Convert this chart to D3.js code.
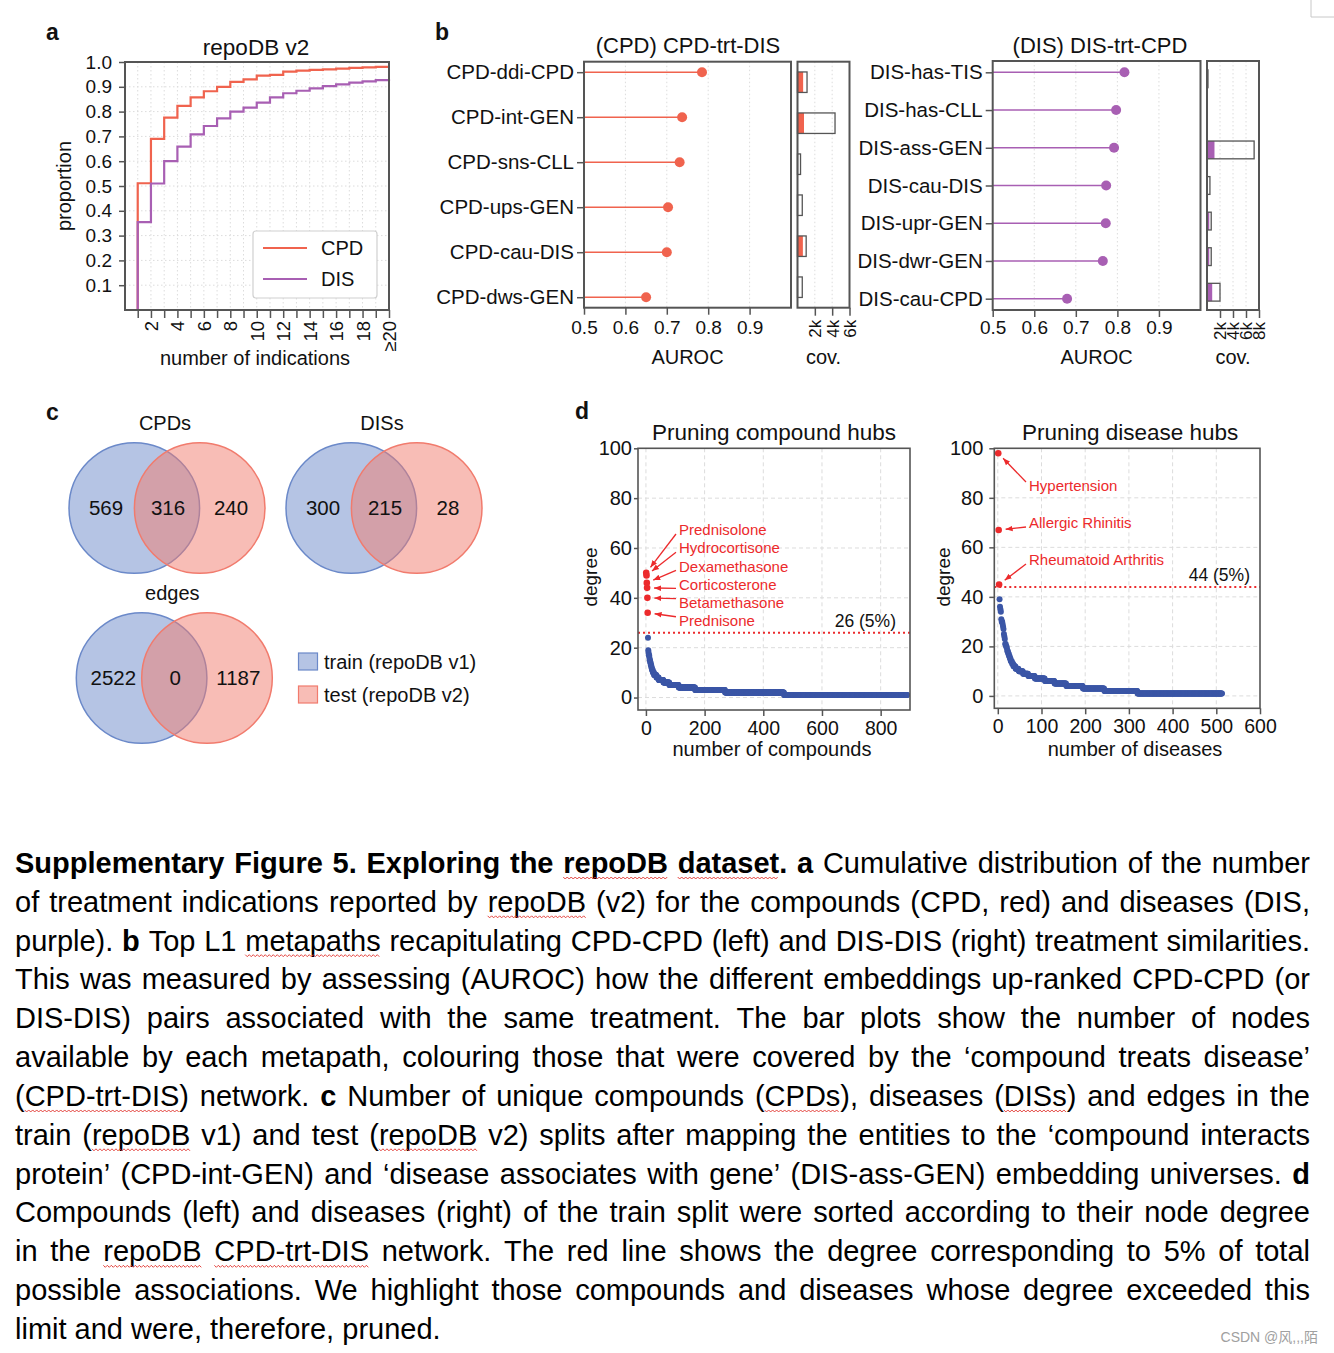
<!DOCTYPE html>
<html>
<head>
<meta charset="utf-8">
<script src="https://cdn.jsdelivr.net/npm/d3@7"></script>
<style>
  body { margin: 0; background: #fff; }
  svg { display: block; font-family: "Liberation Sans", Arial, Helvetica, sans-serif; }
</style>
</head>
<body>
<svg id="fig" width="1334" height="1353"></svg>
<script>
// ---- a: cumulative proportion of CPD / DIS by number of indications (last bin is >=20)
const indications = [1, 2, 3, 4, 5, 6, 7, 8, 9, 10, 11, 12, 13, 14, 15, 16, 17, 18, 19, 20];
const cpdCumulative = [0.511, 0.69, 0.776, 0.823, 0.857, 0.882, 0.90, 0.92, 0.93, 0.945, 0.948, 0.961, 0.965, 0.968, 0.970, 0.973, 0.976, 0.978, 0.980, 0.980];
const disCumulative = [0.354, 0.51, 0.60, 0.659, 0.708, 0.742, 0.773, 0.80, 0.816, 0.836, 0.857, 0.874, 0.884, 0.894, 0.903, 0.91, 0.917, 0.922, 0.927, 0.93];
const propTicks = [0.1, 0.2, 0.3, 0.4, 0.5, 0.6, 0.7, 0.8, 0.9, 1.0];

// ---- b: top L1 metapaths, AUROC and node coverage
const cpdPaths = ["CPD-ddi-CPD", "CPD-int-GEN", "CPD-sns-CLL", "CPD-ups-GEN", "CPD-cau-DIS", "CPD-dws-GEN"];
const cpdAuroc = [0.785, 0.737, 0.731, 0.703, 0.700, 0.650];
const cpdNodes = [1100, 4330, 350, 550, 1000, 550];
const cpdCovered = [650, 750, 0, 0, 620, 0];
const disPaths = ["DIS-has-TIS", "DIS-has-CLL", "DIS-ass-GEN", "DIS-cau-DIS", "DIS-upr-GEN", "DIS-dwr-GEN", "DIS-cau-CPD"];
const disAuroc = [0.817, 0.797, 0.792, 0.773, 0.772, 0.765, 0.679];
const disNodes = [150, 20, 7250, 450, 650, 650, 2000];
const disCovered = [150, 20, 1150, 100, 350, 350, 800];
const aurocTicks = [0.5, 0.6, 0.7, 0.8, 0.9];
const cpdCovTicks = [2000, 4000, 6000];
const disCovTicks = [2000, 4000, 6000, 8000];

// ---- c: train / test overlaps
const vennTitles = ["CPDs", "DISs", "edges"];
const vennTrainOnly = [569, 300, 2522];
const vennShared = [316, 215, 0];
const vennTestOnly = [240, 28, 1187];
const splitLabels = ["train (repoDB v1)", "test (repoDB v2)"];

// ---- d: node degree of train split, sorted; runs are [degree, number of nodes]
const cpdHubNames = ["Prednisolone", "Hydrocortisone", "Dexamethasone", "Corticosterone", "Betamethasone", "Prednisone"];
const cpdHubDegrees = [50, 49, 46, 44, 40, 34];
const cpdDegreeRuns = [[24, 1], [19, 1], [18, 1], [17, 2], [16, 1], [15, 2], [14, 2], [13, 2], [12, 2], [11, 3], [10, 4],
  [9, 8], [8, 8], [7, 16], [6, 20], [5, 32], [4, 56], [3, 102], [2, 201], [1, 420]];
const cpdCutoff = 26;
const disHubNames = ["Hypertension", "Allergic Rhinitis", "Rheumatoid Arthritis"];
const disHubDegrees = [98, 67, 45];
const disDegreeRuns = [[39, 1], [36, 1], [35, 1], [34, 1], [31, 1], [30, 2], [29, 1], [28, 1], [27, 1], [25, 1], [24, 1], [23, 1],
  [21, 2], [20, 2], [19, 1], [18, 2], [17, 2], [16, 2], [15, 2], [14, 3], [13, 3], [12, 5], [11, 7], [10, 10], [9, 12],
  [8, 15], [7, 23], [6, 22], [5, 27], [4, 38], [3, 49], [2, 76], [1, 194]];
const disCutoff = 44;
const degreeTicks = [0, 20, 40, 60, 80, 100];
const cpdRankTicks = [0, 200, 400, 600, 800];
const disRankTicks = [0, 100, 200, 300, 400, 500, 600];

// ---- caption (~ marks the spell-check squiggles)
const captionLines = [
  [["Supplementary Figure 5. Exploring the ~repoDB~ ~dataset~. a", 1], [" Cumulative distribution of the number", 0]],
  [["of treatment indications reported by ~repoDB~ (v2) for the compounds (CPD, red) and diseases (DIS,", 0]],
  [["purple). ", 0], ["b", 1], [" Top L1 ~metapaths~ recapitulating CPD-CPD (left) and DIS-DIS (right) treatment similarities.", 0]],
  [["This was measured by assessing (AUROC) how the different embeddings up-ranked CPD-CPD (or", 0]],
  [["DIS-DIS) pairs associated with the same treatment. The bar plots show the number of nodes", 0]],
  [["available by each metapath, colouring those that were covered by the \u2018compound treats disease\u2019", 0]],
  [["(~CPD-trt-DIS~) network. ", 0], ["c", 1], [" Number of unique compounds (~CPDs~), diseases (~DISs~) and edges in the", 0]],
  [["train (~repoDB~ v1) and test (~repoDB~ v2) splits after mapping the entities to the \u2018compound interacts", 0]],
  [["protein\u2019 (CPD-int-GEN) and \u2018disease associates with gene\u2019 (DIS-ass-GEN) embedding universes. ", 0], ["d", 1]],
  [["Compounds (left) and diseases (right) of the train split were sorted according to their node degree", 0]],
  [["in the ~repoDB~ ~CPD-trt-DIS~ network. The red line shows the degree corresponding to 5% of total", 0]],
  [["possible associations. We highlight those compounds and diseases whose degree exceeded this", 0]],
  [["limit and were, therefore, pruned.", 0]]
];

const RED = "#f0634e", PURPLE = "#a85fb3", AXIS = "#555", GRID = "#dcdcdc";
const HUB = "#ec2a2c", BLUE = "#3b56a6";
const TRAIN = "#6b89c9", TEST = "#f17b6d";

const svg = d3.select("#fig");
svg.append("rect").attr("width", 1334).attr("height", 1353).attr("fill", "#fff");

svg.append("defs").append("marker")
  .attr("id", "arrow").attr("viewBox", "0 0 10 10").attr("refX", 10).attr("refY", 5)
  .attr("markerWidth", 7).attr("markerHeight", 7).attr("markerUnits", "userSpaceOnUse").attr("orient", "auto")
  .append("path").attr("d", "M0,1 L10,5 L0,9 Z").attr("fill", HUB);

function tidy(g, size) {
  g.select(".domain").remove();
  g.selectAll(".tick line").attr("stroke", AXIS).attr("stroke-width", 1.5);
  g.selectAll(".tick text").attr("fill", "#111").style("font-size", size + "px")
    .style("font-family", "'Liberation Sans', Arial, sans-serif");
}

function box(g, x0, y0, x1, y1, w) {
  g.append("rect").attr("x", x0).attr("y", y0).attr("width", x1 - x0).attr("height", y1 - y0)
    .attr("fill", "none").attr("stroke", AXIS).attr("stroke-width", w);
}

function label(g, x, y, txt, size, opts = {}) {
  const t = g.append("text").attr("x", x).attr("y", y).text(txt)
    .style("font-size", size + "px").attr("fill", opts.fill || "#111")
    .attr("text-anchor", opts.anchor || "start");
  if (opts.bold) t.attr("font-weight", "bold");
  if (opts.rotate) t.attr("transform", `rotate(-90,${x},${y})`);
  if (opts.dy) t.attr("dy", opts.dy);
  return t;
}

// panel letters
[["a", 46, 40], ["b", 435, 40], ["c", 46, 420], ["d", 575, 419]].forEach(([l, x, y]) =>
  label(svg, x, y, l, 23, { bold: true }));

// ================= a =================
{
  const g = svg.append("g");
  const x = d3.scaleLinear().domain([0, 20]).range([124.5, 389]);
  const y = d3.scaleLinear().domain([0, 1]).range([310, 62]);
  g.selectAll(null).data(indications).join("line")
    .attr("x1", d => x(d)).attr("x2", d => x(d)).attr("y1", 62).attr("y2", 310)
    .attr("stroke", GRID).attr("stroke-dasharray", "1.5,2.5");
  g.selectAll(null).data(propTicks).join("line")
    .attr("x1", 125).attr("x2", 389).attr("y1", d => y(d)).attr("y2", d => y(d))
    .attr("stroke", GRID).attr("stroke-dasharray", "1.5,2.5");

  const step = d3.line().x(d => x(d[0])).y(d => y(d[1])).curve(d3.curveStepAfter);
  [[cpdCumulative, RED], [disCumulative, PURPLE]].forEach(([vals, c]) => {
    const pts = [[indications[0], 0], ...indications.map((k, i) => [k, vals[i]])];
    g.append("path").attr("d", step(pts)).attr("fill", "none").attr("stroke", c).attr("stroke-width", 2.2);
  });
  box(g, 125, 62, 389, 310, 2);

  g.append("g").attr("transform", "translate(125,0)")
    .call(d3.axisLeft(y).tickValues(propTicks).tickFormat(d3.format(".1f")).tickSize(6).tickPadding(7))
    .call(tidy, 19);
  const xa = g.append("g").attr("transform", "translate(0,310)")
    .call(d3.axisBottom(x).tickValues(indications)
      .tickFormat(d => d === 20 ? "\u226520" : (d % 2 ? "" : d)).tickSize(8))
    .call(tidy, 18.5);
  xa.selectAll(".tick text").attr("transform", "rotate(-90)").attr("text-anchor", "end")
    .attr("x", -11).attr("y", 0).attr("dy", "0.35em");

  label(g, 256, 55, "repoDB v2", 22.5, { anchor: "middle" });
  label(g, 71, 186, "proportion", 20, { anchor: "middle", rotate: true });
  label(g, 255, 365, "number of indications", 20, { anchor: "middle" });

  const lg = g.append("g");
  lg.append("rect").attr("x", 253).attr("y", 231).attr("width", 124).attr("height", 67).attr("rx", 3)
    .attr("fill", "#fff").attr("stroke", "#d0d0d0").attr("stroke-width", 1.2);
  [["CPD", RED], ["DIS", PURPLE]].forEach(([n, c], i) => {
    lg.append("line").attr("x1", 263).attr("x2", 307).attr("y1", 248 + i * 31).attr("y2", 248 + i * 31)
      .attr("stroke", c).attr("stroke-width", 2.2);
    label(lg, 321, 248 + i * 31, n, 20, { dy: "0.35em" });
  });
}

// ================= b =================
function lollipopPanel(o) {
  const g = svg.append("g");
  const x = d3.scaleLinear().domain([0.5, 1]).range([o.x0, o.x1]);
  const y = d3.scalePoint().domain(o.names).range([o.y0, o.y1]).padding(o.pad);

  g.selectAll(null).data(aurocTicks.slice(1)).join("line")
    .attr("x1", d => x(d)).attr("x2", d => x(d)).attr("y1", o.y0).attr("y2", o.y1)
    .attr("stroke", GRID).attr("stroke-dasharray", "1.5,2.5");
  g.selectAll(null).data(o.names).join("line")
    .attr("x1", x(0.5)).attr("x2", (d, i) => x(o.auroc[i]))
    .attr("y1", d => y(d)).attr("y2", d => y(d))
    .attr("stroke", o.color).attr("stroke-width", 1.6);
  g.selectAll(null).data(o.names).join("circle")
    .attr("cx", (d, i) => x(o.auroc[i])).attr("cy", d => y(d)).attr("r", 5)
    .attr("fill", o.color);
  box(g, o.x0, o.y0, o.x1, o.y1, 2);

  g.append("g").attr("transform", `translate(${o.x0},0)`)
    .call(d3.axisLeft(y).tickSize(7).tickPadding(3)).call(tidy, 20.5);
  g.append("g").attr("transform", `translate(0,${o.y1})`)
    .call(d3.axisBottom(x).tickValues(aurocTicks).tickFormat(d3.format(".1f")).tickSize(7).tickPadding(o.xpad))
    .call(tidy, 19);

  // coverage bars
  const xc = d3.scaleLinear().domain([0, o.covMax]).range([o.c0, o.c1]);
  const yb = d3.scaleBand().domain(o.names).range([o.y0, o.y1]).paddingInner(0.5).paddingOuter(0.25);
  g.selectAll(null).data(o.covTicks.slice(0, -1)).join("line")
    .attr("x1", d => xc(d)).attr("x2", d => xc(d)).attr("y1", o.y0).attr("y2", o.y1)
    .attr("stroke", GRID).attr("stroke-dasharray", "1.5,2.5");
  g.selectAll(null).data(o.names).join("rect")
    .attr("x", xc(0)).attr("y", d => yb(d)).attr("height", yb.bandwidth())
    .attr("width", (d, i) => xc(o.covered[i]) - xc(0)).attr("fill", o.color);
  g.selectAll(null).data(o.names).join("rect")
    .attr("x", xc(0)).attr("y", d => yb(d)).attr("height", yb.bandwidth())
    .attr("width", (d, i) => xc(o.nodes[i]) - xc(0)).attr("fill", "none")
    .attr("stroke", AXIS).attr("stroke-width", 1.3);
  box(g, o.c0, o.y0, o.c1, o.y1, 2);
  const ca = g.append("g").attr("transform", `translate(0,${o.y1})`)
    .call(d3.axisBottom(xc).tickValues(o.covTicks).tickFormat(d => d / 1000 + "k").tickSize(8)).call(tidy, 17);
  ca.selectAll(".tick text").attr("transform", "rotate(-90)").attr("text-anchor", "end")
    .attr("x", -12).attr("y", 0).attr("dy", "0.35em");

  label(g, o.titleX, 53, o.title, 22, { anchor: "middle" });
  label(g, (o.x0 + o.x1) / 2, 364, "AUROC", 20, { anchor: "middle" });
  label(g, (o.c0 + o.c1) / 2, 364, "cov.", 20, { anchor: "middle" });
}

lollipopPanel({
  names: cpdPaths, auroc: cpdAuroc, nodes: cpdNodes, covered: cpdCovered, color: RED,
  x0: 584, x1: 791, y0: 61.7, y1: 307.7, pad: 0.233, xpad: 6,
  c0: 797.5, c1: 849.5, covMax: 6000, covTicks: cpdCovTicks,
  title: "(CPD) CPD-trt-DIS", titleX: 688
});
lollipopPanel({
  names: disPaths, auroc: disAuroc, nodes: disNodes, covered: disCovered, color: PURPLE,
  x0: 992.7, x1: 1200.5, y0: 61, y1: 310, pad: 0.30, xpad: 4,
  c0: 1207, c1: 1259, covMax: 8000, covTicks: disCovTicks,
  title: "(DIS) DIS-trt-CPD", titleX: 1100
});

// ================= c =================
{
  const g = svg.append("g");
  const r = 65.3, off = 32.7;
  const mids = [[167, 508], [384, 508], [174.3, 678]];
  vennTitles.forEach((t, i) => {
    const [mx, my] = mids[i];
    g.append("circle").attr("cx", mx - off).attr("cy", my).attr("r", r)
      .attr("fill", TRAIN).attr("fill-opacity", 0.5).attr("stroke", TRAIN).attr("stroke-width", 1.5);
    g.append("circle").attr("cx", mx + off).attr("cy", my).attr("r", r)
      .attr("fill", TEST).attr("fill-opacity", 0.5).attr("stroke", TEST).attr("stroke-width", 1.5);
    label(g, mx - 61, my, vennTrainOnly[i], 20.5, { anchor: "middle", dy: "0.35em" });
    label(g, mx + 1, my, vennShared[i], 20.5, { anchor: "middle", dy: "0.35em" });
    label(g, mx + 64, my, vennTestOnly[i], 20.5, { anchor: "middle", dy: "0.35em" });
    label(g, mx - 2, my - r - 12.5, t, 20, { anchor: "middle" });
  });
  [TRAIN, TEST].forEach((c, i) => {
    g.append("rect").attr("x", 298.5).attr("y", 653 + i * 33).attr("width", 19).attr("height", 17)
      .attr("fill", c).attr("fill-opacity", 0.5).attr("stroke", c).attr("stroke-width", 1.2);
    label(g, 324, 661.5 + i * 33, splitLabels[i], 20, { dy: "0.35em" });
  });
}

// ================= d =================
function hubPanel(o) {
  const g = svg.append("g");
  const x = d3.scaleLinear().domain(o.xDomain).range([o.x0, o.x1]);
  const y = d3.scaleLinear().domain([-5, 100]).range([o.y1, o.y0]);

  g.selectAll(null).data(o.xTicks.filter(v => x(v) < o.x1 - 1)).join("line")
    .attr("x1", d => x(d)).attr("x2", d => x(d)).attr("y1", o.y0).attr("y2", o.y1)
    .attr("stroke", GRID).attr("stroke-dasharray", "4,3");
  g.selectAll(null).data(degreeTicks.slice(0, -1)).join("line")
    .attr("x1", o.x0).attr("x2", o.x1).attr("y1", d => y(d)).attr("y2", d => y(d))
    .attr("stroke", GRID).attr("stroke-dasharray", "4,3");

  g.append("g").attr("transform", `translate(${o.x0},0)`)
    .call(d3.axisLeft(y).tickValues(degreeTicks).tickSize(o.yTick).tickPadding(o.yPad)).call(tidy, 20);
  g.append("g").attr("transform", `translate(0,${o.y1})`)
    .call(d3.axisBottom(x).tickValues(o.xTicks).tickSize(6).tickPadding(5)).call(tidy, 19.5);

  // cutoff
  g.append("line").attr("x1", o.x0).attr("x2", o.x1).attr("y1", y(o.cutoff)).attr("y2", y(o.cutoff))
    .attr("stroke", HUB).attr("stroke-width", 2).attr("stroke-dasharray", "2,3");
  label(g, o.cutLabelX, y(o.cutoff) - 6, `${o.cutoff} (5%)`, 17.5, { anchor: "end" });

  // nodes
  const hubs = o.hubDeg.map((d, i) => ({ rank: i + 1, deg: d, name: o.hubNames[i] }));
  const rest = [];
  let r = hubs.length + 1;
  o.runs.forEach(([deg, n]) => { for (let k = 0; k < n; k++) rest.push({ rank: r++, deg }); });
  g.selectAll(null).data(rest).join("circle")
    .attr("cx", d => x(d.rank)).attr("cy", d => y(d.deg)).attr("r", 3).attr("fill", BLUE);
  g.selectAll(null).data(hubs).join("circle")
    .attr("cx", d => x(d.rank)).attr("cy", d => y(d.deg)).attr("r", 3.3).attr("fill", HUB);

  hubs.forEach((h, i) => {
    const ly = o.labelY0 + i * o.labelStep;
    const px = x(h.rank), py = y(h.deg);
    const tx = o.labelX - 3, ty = ly + (py > ly ? 4 : -4);
    const len = Math.hypot(tx - px, ty - py);
    const ex = px + (tx - px) / len * 7, ey = py + (ty - py) / len * 7;
    g.append("line").attr("x1", tx).attr("y1", ty).attr("x2", ex).attr("y2", ey)
      .attr("stroke", HUB).attr("stroke-width", 1.3).attr("marker-end", "url(#arrow)");
    label(g, o.labelX, ly, h.name, 15, { fill: HUB, dy: "0.35em" });
  });

  box(g, o.x0, o.y0, o.x1, o.y1, 1.6);
  label(g, (o.x0 + o.x1) / 2 + o.titleDx, 440, o.title, 22.5, { anchor: "middle" });
  label(g, o.yLabelX, 577, "degree", 19, { anchor: "middle", rotate: true });
  label(g, o.xLabelX, 756, o.xLabel, 20, { anchor: "middle" });
}

hubPanel({
  x0: 638, x1: 910, y0: 448.3, y1: 710, xDomain: [-27, 900], xTicks: cpdRankTicks, yTick: 4, yPad: 2,
  hubNames: cpdHubNames, hubDeg: cpdHubDegrees, runs: cpdDegreeRuns, cutoff: cpdCutoff, cutLabelX: 896,
  labelX: 679, labelY0: 530, labelStep: 18.15,
  title: "Pruning compound hubs", titleDx: 0, yLabelX: 597, xLabel: "number of compounds", xLabelX: 772
});
hubPanel({
  x0: 994.3, x1: 1260, y0: 448.3, y1: 708.3, xDomain: [-8, 600], xTicks: disRankTicks, yTick: 5, yPad: 6,
  hubNames: disHubNames, hubDeg: disHubDegrees, runs: disDegreeRuns, cutoff: disCutoff, cutLabelX: 1250,
  labelX: 1029, labelY0: 486, labelStep: 37,
  title: "Pruning disease hubs", titleDx: 3, yLabelX: 950, xLabel: "number of diseases", xLabelX: 1135
});

// ================= caption =================
{
  const g = svg.append("g").style("font-size", "29px");
  const meas = svg.append("text").attr("x", -2000).attr("y", -2000).style("font-size", "29px");
  const textW = (s, bold) => {
    meas.attr("font-weight", bold ? "bold" : "normal").text(s);
    return meas.node().getComputedTextLength();
  };
  const spaceW = textW("a a", 0) - textW("aa", 0);
  const left = 15, right = 1310, base0 = 873, lineStep = 38.83;

  captionLines.forEach((segs, li) => {
    const words = [];
    segs.forEach(([txt, bold]) => txt.split(" ").filter(w => w).forEach(w => words.push({ raw: w, bold })));
    words.forEach(w => {
      w.text = w.raw.replace(/~/g, "");
      w.width = textW(w.text, w.bold);
    });
    const total = d3.sum(words, w => w.width);
    const last = li === captionLines.length - 1;
    const gap = last ? spaceW : (right - left - total) / (words.length - 1);
    const yb = base0 + li * lineStep;
    let xPos = left;
    words.forEach(w => {
      g.append("text").attr("x", xPos).attr("y", yb).attr("fill", "#000")
        .attr("font-weight", w.bold ? "bold" : "normal").text(w.text);
      const a = w.raw.indexOf("~");
      if (a >= 0) {
        const b = w.raw.indexOf("~", a + 1);
        const x0 = xPos + textW(w.raw.slice(0, a), w.bold);
        const x1 = x0 + textW(w.raw.slice(a + 1, b), w.bold);
        const pts = [];
        for (let xx = x0, k = 0; xx <= x1; xx += 2, k++) pts.push([xx, yb + 5 + (k % 2 ? 1 : -1)]);
        g.append("path").attr("d", d3.line()(pts)).attr("fill", "none")
          .attr("stroke", "#e0302a").attr("stroke-width", 0.9);
      }
      xPos += w.width + gap;
    });
  });
  meas.remove();

  svg.append("text").attr("x", 1318).attr("y", 1342).attr("text-anchor", "end")
    .style("font-size", "14px").style("font-family", "'Liberation Sans', 'Noto Sans CJK SC', sans-serif")
    .attr("fill", "#a0a0a0").text("CSDN @\u98ce,,,\u964c");

  svg.append("path").attr("d", "M1311,0 V17 H1334").attr("fill", "none")
    .attr("stroke", "#c8c8c8").attr("stroke-width", 1);
}
</script>
</body>
</html>
